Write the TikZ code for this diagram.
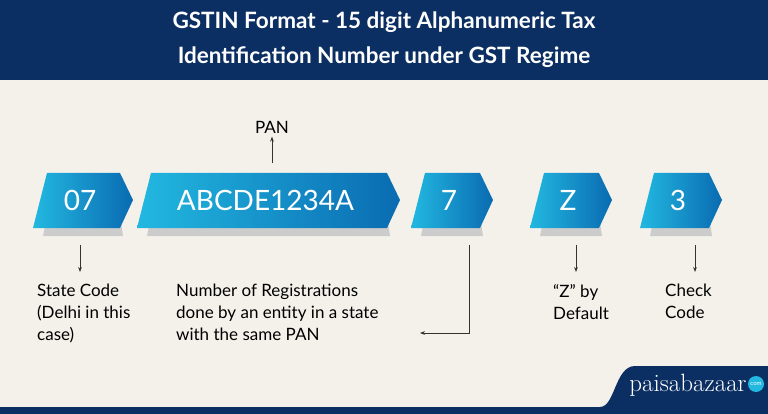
\documentclass[tikz,border=0pt]{standalone}
\usepackage{fontspec}
\setmainfont{Lato}
\usetikzlibrary{calc, arrows.meta}
\definecolor{navy}{HTML}{0B2F63}
\definecolor{cream}{HTML}{F3F1EA}
\definecolor{cyanl}{HTML}{22B8E0}
\definecolor{blued}{HTML}{0A6BB2}
\tikzset{
  tag/.style = {left color = cyanl, right color = blued},
  tagshadow/.style = {fill = black!20},
  tagtext/.style = {text = white, font = \fontsize{28}{32}\selectfont},
  label/.style = {align = left, anchor = north west, font = \fontsize{17}{22}\selectfont, inner sep = 0pt},
  pointer/.style = {black!80, thick, -{Stealth[length = 5pt]}}
}
% one tag: #1 left x, #2 right x, #3 name, #4 text
\newcommand{\gsttag}[4]{
  \fill[tagshadow] (#1 + 14, 216) -- (#2 - 13, 216) -- (#2 - 10, 236) -- (#1 + 10, 236) -- cycle;
  \shade[tag] (#1 + 14, 173) -- (#2 - 13, 173) -- (#2, 200) -- (#2 - 13, 228) -- (#1, 228) -- cycle;
  \node[tagtext] (#3) at ({(#1 + #2) / 2 - 3}, 200) {#4};
}
\begin{document}
\begin{tikzpicture}[x = 1pt, y = -1pt]
            \useasboundingbox (0, 0) rectangle (768, 414);
            \fill[cream] (0, 0) rectangle (768, 414);
            
            % header
            \fill[navy] (0, 0) rectangle (768, 80);
            \node[text = white, font = \bfseries\fontsize{22.5}{35}\selectfont, align = center] (title) at (384, 40) {GSTIN Format - 15 digit Alphanumeric Tax \\ Identification Number under GST Regime};
            
            % tags
            \gsttag{33}{133}{state}{07}
            \gsttag{137}{400}{pan}{ABCDE1234A}
            \gsttag{411}{493}{reg}{7}
            \gsttag{530}{612}{zed}{Z}
            \gsttag{640}{722}{check}{3}
            
            % PAN
            \node[font = \fontsize{17}{20}\selectfont] (panlabel) at (272, 127) {PAN};
            \coordinate (panfoot) at (272, 163);
            \draw[pointer] (panfoot) -- (panlabel);
            
            % lower labels
            \coordinate (statefoot) at (80, 245);
            \node[label] (statetext) at (37, 284) {State Code \\ (Delhi in this \\ case)};
            \draw[pointer] (statefoot) -- ++(0, 27);
            
            \node[label] (regtext) at (176, 284) {Number of Registrations \\ done by an entity in a state \\ with the same PAN};
            \coordinate (regfoot) at (469, 245);
            \coordinate (regend) at (420, 333);
            \draw[pointer] (regfoot) |- (regend);
            
            \coordinate (zedfoot) at (576, 245);
            \node[label] (zedtext) at (553, 284) {“Z” by \\ Default};
            \draw[pointer] (zedfoot) -- ++(0, 27);
            
            \coordinate (checkfoot) at (695, 245);
            \node[label] (checktext) at (665, 284) {Check \\ Code};
            \draw[pointer] (checkfoot) -- ++(0, 27);
            
            % footer logo
            \fill[navy] (0, 407) -- (600, 407) .. controls (615, 407) and (615, 366) .. (635, 366) -- (768, 366) -- (768, 414) -- (0, 414) -- cycle;
            \node[text = white, font = \fontfamily{lmr}\selectfont\fontsize{25}{28}\selectfont] (logo) at (688, 385) {paisabazaar};
            \fill[cyanl] (756, 384) circle (8);
            \node[text = white, font = \fontsize{6}{7}\selectfont] (dotcom) at (756, 384) {com};
        \end{tikzpicture}
\end{document}
